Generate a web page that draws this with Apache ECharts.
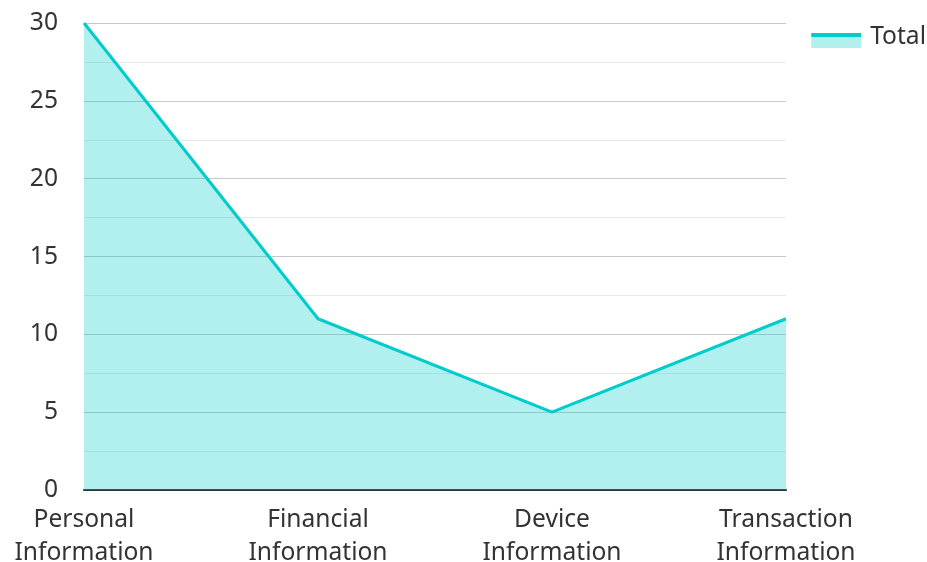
<!DOCTYPE html>
<html><head><meta charset="utf-8">
<script src="https://cdn.jsdelivr.net/npm/echarts@6/dist/echarts.min.js"></script>
<style>html,body{margin:0;padding:0;background:#fff}#c{width:927px;height:562px}</style>
</head><body><div id="c"></div>
<script>
const categories = ['Personal\nInformation', 'Financial\nInformation', 'Device\nInformation', 'Transaction\nInformation'];
const totalValues = [30, 11, 5, 11];
const seriesName = 'Total';

const lineColor = '#00cccc';
const fontName = 'Noto Sans';
const fontSize = 24.6;
const iconSvg = '<svg xmlns="http://www.w3.org/2000/svg" width="50" height="30"><rect x="0" y="15" width="50" height="11" fill="#b2f0f0"/><rect x="0" y="11" width="50" height="4" fill="#00cccc"/></svg>';
const chart = echarts.init(document.getElementById('c'));
chart.setOption({
  animation: false,
  textStyle: { fontFamily: fontName },
  grid: { left: 84, right: 141, top: 23, bottom: 72, outerBoundsMode: 'none', containLabel: false },
  legend: {
    right: -4, top: 17,
    itemWidth: 50, itemHeight: 30, itemGap: 9,
    icon: 'image://data:image/svg+xml;charset=utf-8,' + encodeURIComponent(iconSvg),
    textStyle: { fontSize: fontSize, color: '#333', fontFamily: fontName, padding: [0, 0, 0, 4] },
    data: [seriesName]
  },
  xAxis: {
    type: 'category', boundaryGap: false, data: categories,
    axisLine: { lineStyle: { color: '#333', width: 2 } },
    axisTick: { show: false },
    axisLabel: { fontSize: fontSize, color: '#333', margin: 13, lineHeight: 33, fontFamily: fontName, interval: 0 }
  },
  yAxis: {
    type: 'value', min: 0, max: 30, interval: 5,
    axisLine: { show: false }, axisTick: { show: false },
    axisLabel: { fontSize: fontSize, color: '#333', margin: 26, fontFamily: fontName },
    splitLine: { lineStyle: { color: '#c8c8c8', width: 1 } },
    minorTick: { show: false, splitNumber: 2 },
    minorSplitLine: { show: true, lineStyle: { color: '#e8e8e8', width: 1 } }
  },
  series: [{
    name: seriesName, type: 'line', data: totalValues,
    symbol: 'none', lineStyle: { color: lineColor, width: 3 },
    itemStyle: { color: lineColor },
    areaStyle: { color: lineColor, opacity: 0.3 }
  }]
});
</script></body></html>
